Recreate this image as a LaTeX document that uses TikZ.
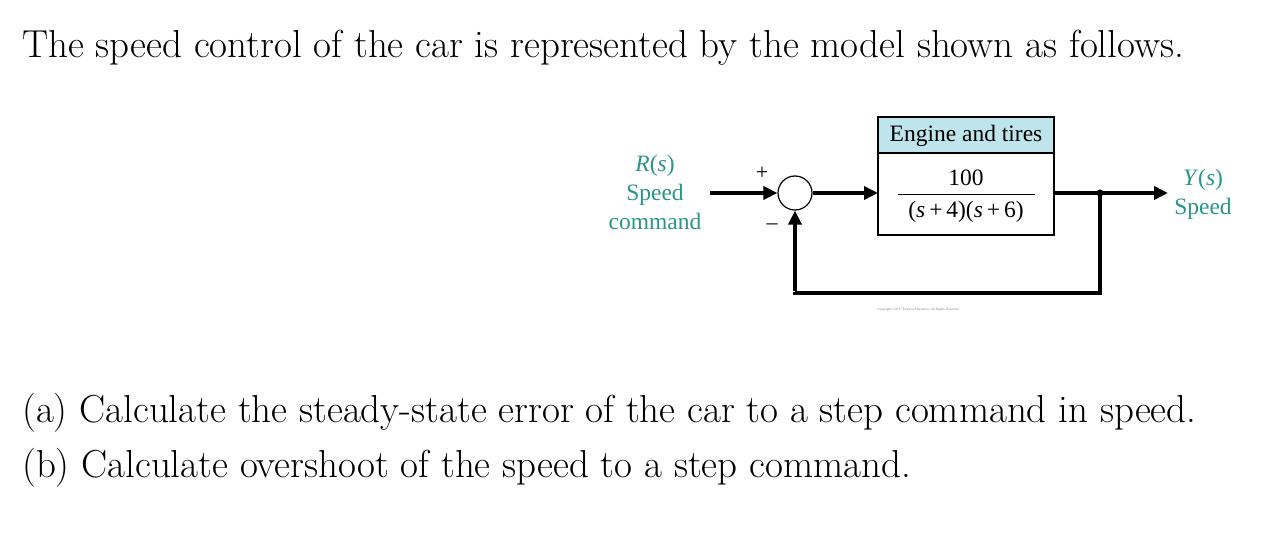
\documentclass[tikz,border=0pt]{standalone}
\usepackage{fontspec}
\newfontfamily\tnr{Liberation Serif}
\usetikzlibrary{arrows.meta}
\definecolor{teal2}{RGB}{40,150,140}
\definecolor{hdr}{RGB}{190,228,236}
\tikzset{
  sig/.style={line width=3.5pt,-{Triangle[length=14pt,width=13pt]}},
  wire/.style={line width=3.5pt},
  lab/.style={text=teal2,font=\tnr\fontsize{23.5}{29}\selectfont,align=center},
  dfont/.style={font=\tnr\fontsize{23.5}{28}\selectfont},
  body/.style={font=\fontsize{39}{46}\selectfont,anchor=west,inner sep=0}
}
\begin{document}
\begin{tikzpicture}[x=1pt,y=-1pt]
\useasboundingbox (0,0) rectangle (1270,540);
\node[body] (title) at (22,48) {The speed control of the car is represented by the model shown as follows.};
\node[body] (qa) at (22,413) {(a) Calculate the steady-state error of the car to a step command in speed.};
\node[body] (qb) at (22,468) {(b) Calculate overshoot of the speed to a step command.};
% block
\draw[fill=hdr,line width=1.5pt] (878,117) rectangle (1054,153);
\draw[line width=1.5pt] (878,153) rectangle (1054,235);
\node[dfont] (hd) at (966,136) {Engine and tires};
\node[dfont] (num) at (966,178) {100};
\draw[line width=0.8pt] (898,194) -- (1035,194);
\node[dfont] (den) at (966,212) {(\textit{s}\,+\,4)(\textit{s}\,+\,6)};
\coordinate (bin) at (878,193);
\coordinate (bout) at (1054,193);
\node[circle,draw,line width=1.2pt,minimum size=34pt,inner sep=0] (sum) at (795,193) {};
\coordinate (rin) at (710,193);
\coordinate (br) at (1100,193);
\coordinate (yout) at (1168,193);
\coordinate (c1) at (1100,293);
\coordinate (c2) at (795,293);
\draw[sig] (rin) -- (sum.west);
\draw[sig] (sum.east) -- (bin);
\draw[sig] (bout) -- (yout);
\draw[wire] (br) -- (c1) -- (c2) -- ([yshift=1pt]c2) ;
\draw[sig] ([yshift=1.75pt]c2) -- (sum.south);
\fill (br) circle (3.5pt);
\node[font=\tnr\fontsize{22}{24}\selectfont] (plus) at (762,173) {+};
\node[font=\tnr\fontsize{22}{24}\selectfont] (minus) at (772,227) {\textendash};
\node[lab] (R) at (655,192) {\textit{R}(\textit{s})\\Speed\\command};
\node[lab] (Y) at (1203,194) {\textit{Y}(\textit{s})\\Speed};
\node[font=\tnr\fontsize{3.5}{4}\selectfont,text=gray] (copy) at (918,310) {Copyright \copyright2017 Pearson Education, All Rights Reserved};
\end{tikzpicture}
\end{document}
